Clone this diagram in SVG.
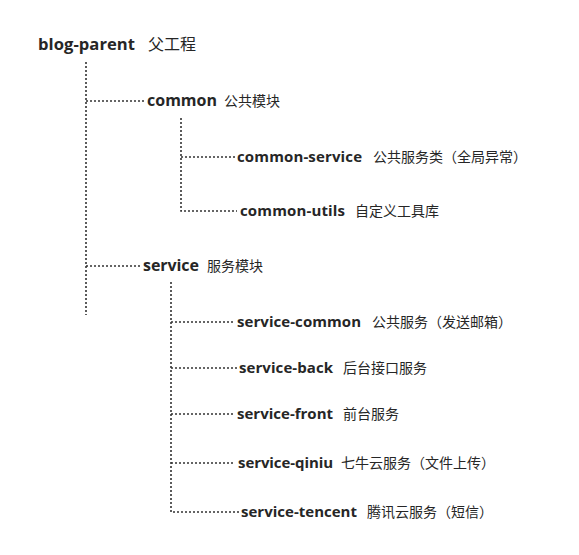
<svg xmlns="http://www.w3.org/2000/svg" width="579" height="555" viewBox="0 0 579 555">
<style>
.en{font-family:"Open Sans","Noto Sans",sans-serif;font-weight:bold;fill:#262626}
.zh{font-family:"Noto Sans CJK SC",sans-serif;fill:#262626}
.l0{font-size:16.6px}
.l1{font-size:16px}
.l2{font-size:15px}
.c0{font-size:16px}
.c1{font-size:14px}
.c2{font-size:14px}
.dl{stroke:#333;stroke-width:1.6;stroke-dasharray:2 2;fill:none}
</style>
<rect width="579" height="555" fill="#fff"/>
<g id="connectors">
<path class="dl" d="M86,62V315"/>
<path class="dl" d="M86,101H145"/>
<path class="dl" d="M86,266H142"/>
<path class="dl" d="M181,118V211H237"/>
<path class="dl" d="M181,157H235"/>
<path class="dl" d="M171,282V512H240"/>
<path class="dl" d="M171,322H235"/>
<path class="dl" d="M171,368H237"/>
<path class="dl" d="M171,414H235"/>
<path class="dl" d="M171,463H234"/>
</g>
<g id="blog-parent"><text class="en l0" x="38" y="50" textLength="97">blog-parent</text><text class="zh c0" x="148" y="50">父工程</text></g>
<g id="common"><text class="en l1" x="147" y="106" textLength="70">common</text><text class="zh c1" x="224" y="106">公共模块</text></g>
<g id="common-service"><text class="en l2" x="237" y="162" textLength="125">common-service</text><text class="zh c2" x="373" y="162">公共服务类（全局异常）</text></g>
<g id="common-utils"><text class="en l2" x="240" y="216" textLength="105">common-utils</text><text class="zh c2" x="355" y="216">自定义工具库</text></g>
<g id="service"><text class="en l1" x="143" y="271" textLength="56">service</text><text class="zh c1" x="207" y="271">服务模块</text></g>
<g id="service-common"><text class="en l2" x="237" y="327" textLength="124">service-common</text><text class="zh c2" x="372" y="327">公共服务（发送邮箱）</text></g>
<g id="service-back"><text class="en l2" x="239" y="373" textLength="94">service-back</text><text class="zh c2" x="343" y="373">后台接口服务</text></g>
<g id="service-front"><text class="en l2" x="237" y="419" textLength="96">service-front</text><text class="zh c2" x="343" y="419">前台服务</text></g>
<g id="service-qiniu"><text class="en l2" x="238" y="468" textLength="95">service-qiniu</text><text class="zh c2" x="341" y="468">七牛云服务（文件上传）</text></g>
<g id="service-tencent"><text class="en l2" x="241" y="517" textLength="116">service-tencent</text><text class="zh c2" x="367" y="517">腾讯云服务（短信）</text></g>
</svg>
